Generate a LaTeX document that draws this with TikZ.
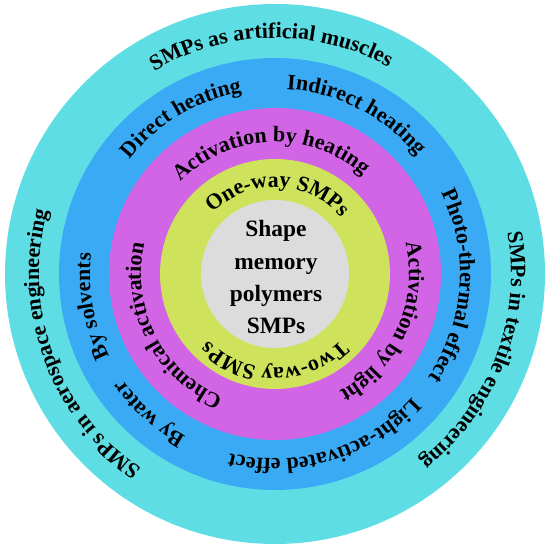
\documentclass[tikz,border=0pt]{standalone}
\usepackage{fontspec}
\setmainfont{Liberation Serif}
\usepackage{tikz}
\usetikzlibrary{decorations.text}
\definecolor{wwddee}{rgb}{0.3686,0.8706,0.8941}
\definecolor{ttaaff}{rgb}{0.2275,0.6667,0.9608}
\definecolor{ddwwee}{rgb}{0.8235,0.3922,0.9020}
\definecolor{cceeww}{rgb}{0.8078,0.8863,0.3608}
\definecolor{dcdcdc}{rgb}{0.8627,0.8627,0.8627}
% text set along a clockwise arc: radius, middle angle, text
\newcommand{\ringlabel}[3]{%
\path [decorate,decoration={text along path,text align=center,
  text={|\bfseries\fontsize{11}{13}\selectfont|#3}}]
  ({#2+80}:#1) arc [start angle={#2+80},end angle={#2-80},radius=#1];}

\begin{document}
\begin{tikzpicture}[line cap=round,line join=round,x=0.5pt,y=0.5pt]
\useasboundingbox (-275,-276) rectangle (275,274);
\fill [color=wwddee] (0,0) circle (270);
\fill [color=ttaaff] (0,0) circle (216);
\fill [color=ddwwee] (0,0) circle (166);
\fill [color=cceeww] (0,0) circle (115);
\fill [color=dcdcdc] (0,0) circle (74);
% outer ring
\ringlabel{236}{91}{SMPs as artificial muscles}
\ringlabel{236}{-21}{SMPs in textile engineering}
\ringlabel{236}{200}{SMPs in aerospace engineering}
% second ring
\ringlabel{185}{121}{Direct heating}
\ringlabel{185}{63}{Indirect heating}
\ringlabel{185}{-4}{Photo-thermal effect}
\ringlabel{185}{-73}{Light-activated effect}
\ringlabel{185}{228}{By water}
\ringlabel{185}{190}{By solvents}
% third ring
\ringlabel{132}{92}{Activation by heating}
\ringlabel{134}{-24}{Activation by light}
\ringlabel{134}{207}{Chemical activation}
% inner ring
\ringlabel{87}{88}{One-way SMPs}
\ringlabel{94}{-90}{Two-way SMPs}
\node [align=center,font=\bfseries\fontsize{11.7}{16}\selectfont] (core) at (1,-3) {Shape\\memory\\polymers\\SMPs};
\end{tikzpicture}
\end{document}
